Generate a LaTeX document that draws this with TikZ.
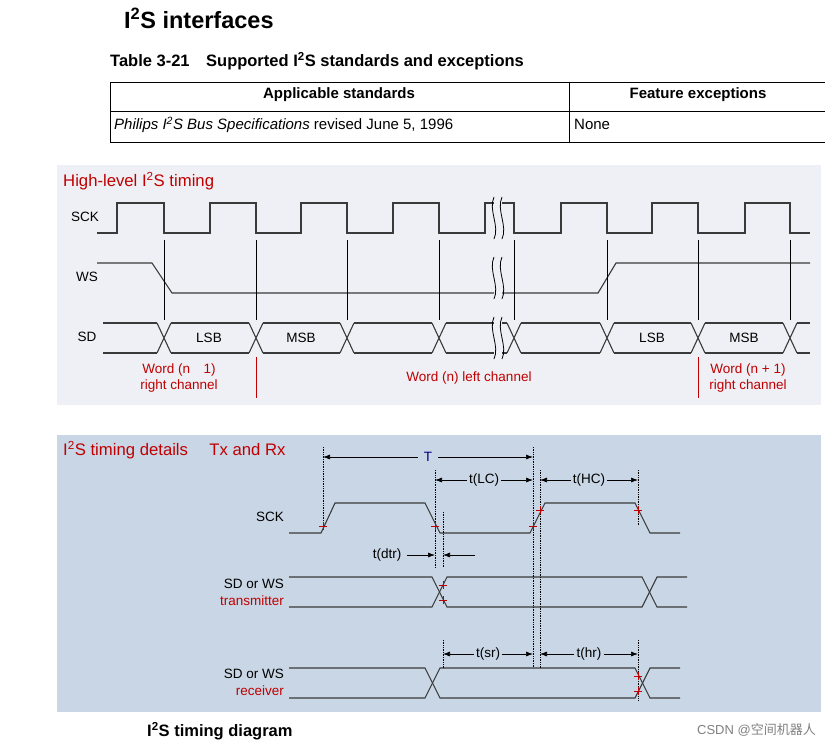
\documentclass[tikz,border=0pt]{standalone}
\usepackage{fontspec}
\setmainfont{Liberation Sans}
\newfontfamily\cjk{Noto Sans CJK SC}
\usetikzlibrary{arrows.meta}
\definecolor{redt}{HTML}{C00000}
\definecolor{bgA}{HTML}{EEF0F5}
\definecolor{bgB}{HTML}{C9D6E5}
\definecolor{wav}{HTML}{3A3A3A}
\begin{document}
\begin{tikzpicture}[x=1pt,y=-1pt,
  lbl/.style={font=\fontsize{13.5}{15}\selectfont, inner sep=0pt},
  rlbl/.style={lbl, text=redt},
  wave/.style={line width=1.1pt, color=wav},
  thin/.style={line width=0.6pt, color=black},
  dot/.style={densely dotted, line width=0.7pt},
  dim/.style={line width=0.7pt, -{Latex[length=7pt,width=5pt]}},
  rc/.style={redt, line width=0.7pt}]
\useasboundingbox (0,0) rectangle (825,745);
% heading and table
\node[anchor=west, font=\bfseries\fontsize{23.5}{26}\selectfont, inner sep=0pt] (h1) at (124,18) {I\textsuperscript{2}S interfaces};
\node[anchor=west, font=\bfseries\fontsize{16.5}{18}\selectfont, inner sep=0pt] (cap) at (110,61) {Table 3-21\quad Supported I\textsuperscript{2}S standards and exceptions};
\draw[line width=0.6pt] (110,82) -- (825,82) (110,111) -- (825,111) (110,142) -- (825,142) (110,82) -- (110,142) (569,82) -- (569,142);
\node[font=\bfseries\fontsize{15}{17}\selectfont, inner sep=0pt] (th1) at (339,95) {Applicable standards};
\node[font=\bfseries\fontsize{15}{17}\selectfont, inner sep=0pt] (th2) at (698,95) {Feature exceptions};
\node[anchor=west, font=\fontsize{15}{17}\selectfont, inner sep=0pt] (td1) at (114,125) {\textit{Philips I\textsuperscript{2}S Bus Specifications} revised June 5, 1996};
\node[anchor=west, font=\fontsize{15}{17}\selectfont, inner sep=0pt] (td2) at (574,124) {None};
% panel 1
\fill[bgA] (57,165) rectangle (821,405);
\node[rlbl, anchor=west, font=\fontsize{16.7}{18}\selectfont] (t1) at (63,181) {High-level I\textsuperscript{2}S timing};
\node[lbl] (sck1) at (85,217) {SCK};
\node[lbl] (ws1) at (87,277) {WS};
\node[lbl] (sd1) at (87,337) {SD};
\draw[wave] (97,233) -- (117,233) -- (117,203) -- (164,203) -- (164,233) -- (210,233) -- (210,203) -- (256,203) -- (256,233) -- (301,233) -- (301,203) -- (347,203) -- (347,233) -- (393,233) -- (393,203) -- (439,203) -- (439,233) -- (485,233) -- (485,203) -- (494,203);
\draw[wave] (502,203) -- (514,203) -- (514,233) -- (561,233) -- (561,203) -- (607,203) -- (607,233) -- (652,233) -- (652,203) -- (698,203) -- (698,233) -- (745,233) -- (745,203) -- (790,203) -- (790,233) -- (810,233);
\draw[wave] (97,263) -- (152,263) -- (172,293) -- (494,293);
\draw[wave] (502,293) -- (598,293) -- (616,263) -- (810,263);
\foreach \a/\b in {103/157,171/249,263/340,354/432,446/494,502/507,521/600,614/691,705/783,797/810}
  \draw[wave] (\a,323) -- (\b,323) (\a,353) -- (\b,353);
\foreach \c in {164,256,347,439,514,607,698,790}
  \draw[wave] (\c-7,323) -- (\c+7,353) (\c-7,353) -- (\c+7,323);
\foreach \y in {218,278,338}
  \foreach \x in {494,502}
    \draw[thin, line width=0.8pt] (\x,\y-21) .. controls (\x-6,\y-8) and (\x+6,\y+8) .. (\x,\y+21);
\foreach \x in {164,256,347,439,514,607,698,790}
  \draw[thin] (\x,240) -- (\x,320);
\draw[redt, line width=0.8pt] (256,357) -- (256,398) (698,357) -- (698,398);
\node[lbl] (lsb1) at (209,338) {LSB};
\node[lbl] (msb1) at (301,338) {MSB};
\node[lbl] (lsb2) at (652,338) {LSB};
\node[lbl] (msb2) at (744,338) {MSB};
\node[rlbl] (w1) at (179,370) {Word (n\quad 1)};
\node[rlbl] (w1b) at (179,386) {right channel};
\node[rlbl] (w2) at (469,378) {Word (n) left channel};
\node[rlbl] (w3) at (748,370) {Word (n + 1)};
\node[rlbl] (w3b) at (748,386) {right channel};
% panel 2
\fill[bgB] (57,435) rectangle (821,712);
\node[rlbl, anchor=west, font=\fontsize{16.7}{18}\selectfont] (t2) at (63,450) {I\textsuperscript{2}S timing details\quad\ Tx and Rx};
\node[lbl, anchor=east] (sck2) at (284,517) {SCK};
\node[lbl, anchor=east] (sdt) at (284,584) {SD or WS};
\node[rlbl, anchor=east] (tr) at (284,601) {transmitter};
\node[lbl, anchor=east] (sdr) at (284,674) {SD or WS};
\node[rlbl, anchor=east] (rv) at (284,691) {receiver};
\draw[wave] (289,533) -- (321,533) -- (335,503) -- (425,503) -- (440,533) -- (530,533) -- (545,503) -- (635,503) -- (650,533) -- (680,533);
\draw[wave] (289,577) -- (432,577) -- (447,607) -- (642,607) -- (657,577) -- (687,577);
\draw[wave] (289,607) -- (432,607) -- (447,577) -- (642,577) -- (657,607) -- (687,607);
\draw[wave] (289,668) -- (425,668) -- (440,698) -- (635,698) -- (650,668) -- (680,668);
\draw[wave] (289,698) -- (425,698) -- (440,668) -- (635,668) -- (650,698) -- (680,698);
% dotted guides
\draw[dot] (323,447) -- (323,526);
\draw[dot] (435,470) -- (435,568);
\draw[dot] (443,512) -- (443,568);
\draw[dot] (443,640) -- (443,668);
\draw[dot] (533,447) -- (533,668);
\draw[dot] (540,470) -- (540,668);
\draw[dot] (638,470) -- (638,526);
\draw[dot] (638,640) -- (638,700);
% dimension arrows
\node[lbl, text=blue!50!black] (T) at (428,457) {T};
\draw[dim] (T.west) ++(-6,0) -- (323,457);
\draw[dim] (T.east) ++(6,0) -- (533,457);
\node[lbl] (lc) at (484,480) {t(LC)};
\draw[dim] (lc.west) ++(-2,0) -- (435,480);
\draw[dim] (lc.east) ++(2,0) -- (533,480);
\node[lbl] (hc) at (589,480) {t(HC)};
\draw[dim] (hc.west) ++(-2,0) -- (540,480);
\draw[dim] (hc.east) ++(2,0) -- (638,480);
\node[lbl] (dtr) at (387,555) {t(dtr)};
\coordinate (dtrR) at (475,555);
\draw[dim] (dtr.east) ++(6,0) -- (435,555);
\draw[dim] (dtrR) -- (443,555);
\node[lbl] (sr) at (488,654) {t(sr)};
\draw[dim] (sr.west) ++(-2,0) -- (443,654);
\draw[dim] (sr.east) ++(2,0) -- (533,654);
\node[lbl] (hr) at (589,654) {t(hr)};
\draw[dim] (hr.west) ++(-2,0) -- (540,654);
\draw[dim] (hr.east) ++(2,0) -- (638,654);
% red marks
\foreach \x/\y in {323/526,435/526,533/526,540/510,638/510,443/585,443/600,638/676,638/691}
  \draw[rc] (\x-4,\y) -- (\x+4,\y) (\x,\y-4) -- (\x,\y+4);
% footer
\node[anchor=west, font=\bfseries\fontsize{16.5}{18}\selectfont, inner sep=0pt] (fc) at (147,731) {I\textsuperscript{2}S timing diagram};
\node[anchor=east, font=\fontsize{13}{15}\selectfont, text=gray, inner sep=0pt] (wm) at (816,730) {CSDN @{\cjk 空间机器人}};
\end{tikzpicture}
\end{document}
